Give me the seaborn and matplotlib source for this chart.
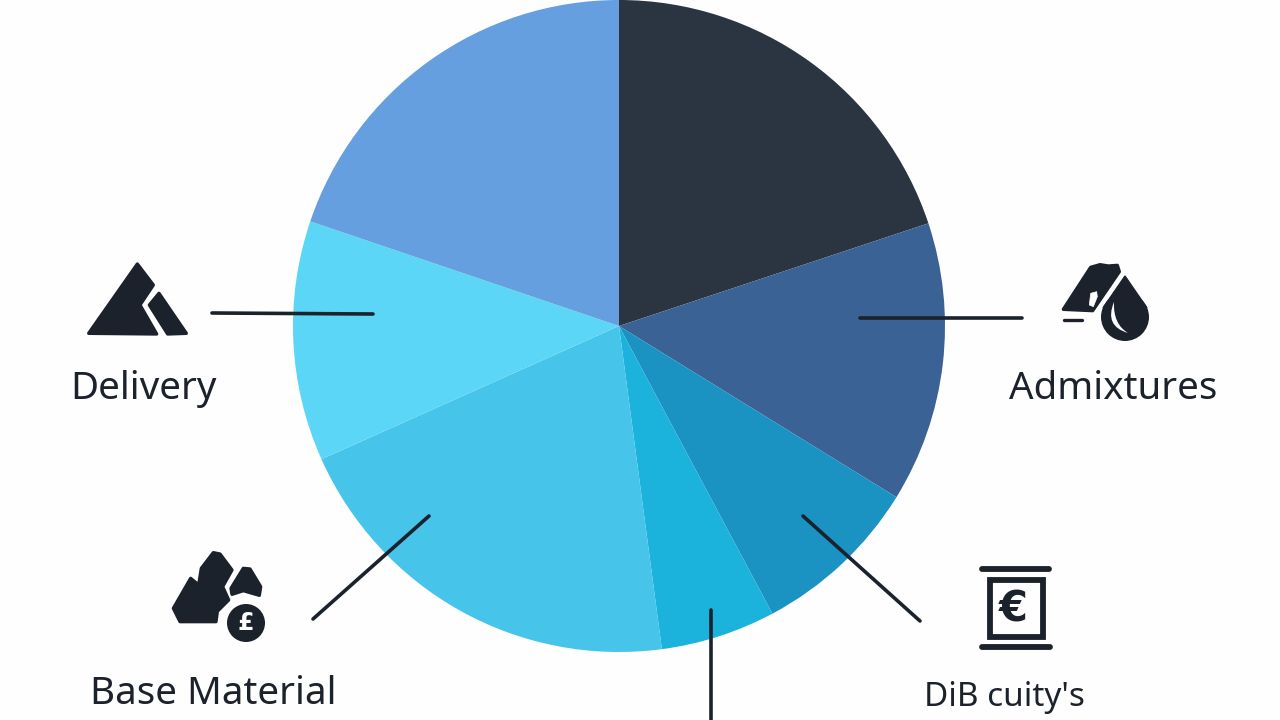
import matplotlib
matplotlib.use("Agg")
import matplotlib.pyplot as plt
from matplotlib.patches import Circle, PathPatch, Polygon, Rectangle
from matplotlib.path import Path
import seaborn as sns

# slices clockwise from 12 o'clock, shares
slice_names = ["Top", "Admixtures", "Duties", "Lower", "Base Material", "Delivery", "Upper"]
slice_values = [19.9, 13.9, 8.4, 5.7, 20.4, 11.9, 19.8]
slice_colors = ["#2a3541", "#3a6295", "#1a92c2", "#1bb2dc", "#47c4ea", "#5cd6f6", "#659fdf"]

labels = ["Delivery", "Admixtures", "Base Material", "DiB cuity's"]

INK = "#1c222b"
PAPER = "#fefefe"

sns.set_theme(style="white")
plt.rcParams["font.family"] = ["Noto Sans", "DejaVu Sans"]

fig = plt.figure(figsize=(12.8, 7.2), dpi=100, facecolor=PAPER)

# pie axes placed in pixels: centre (619, 326), radius 326
pie_ax = fig.add_axes([(619 - 326) / 1280, (720 - 326 - 326) / 720, 652 / 1280, 652 / 720])
pie_ax.pie(slice_values, colors=sns.color_palette(slice_colors), startangle=90,
           counterclock=False, radius=1, wedgeprops={"linewidth": 0, "edgecolor": "none"})
pie_ax.set_xlim(-1, 1)
pie_ax.set_ylim(-1, 1)

# overlay in image pixels for the leader lines, icons and labels
ax = fig.add_axes([0, 0, 1, 1], facecolor="none")
ax.set_xlim(0, 1280)
ax.set_ylim(720, 0)
ax.axis("off")


def leader(x0, y0, x1, y1):
    ax.plot([x0, x1], [y0, y1], color=INK, lw=2.6, solid_capstyle="round")


leader(212, 313, 373, 314)
leader(860, 318, 1022, 318)
leader(313, 619, 429, 516)
leader(803, 516, 920, 621)
leader(711, 610, 711, 725)


def shape(points, ox, oy, color=INK, lw=2.4):
    # points are measured on a 3x crop starting at (ox, oy)
    pts = [(ox + x / 3, oy + y / 3) for x, y in points]
    ax.add_patch(Polygon(pts, closed=True, fc=color, ec=color, lw=lw, joinstyle="round"))


# mountain icon
shape([(232, 42), (280, 105), (240, 165), (290, 252), (86, 250)], 60, 250)
shape([(297, 130), (379, 250), (323, 252), (268, 165)], 60, 250)

# rock and drop icon
shape([(190, 178), (272, 52), (300, 44), (325, 48), (352, 46), (358, 65), (278, 182)], 1000, 250)
shape([(268, 165), (272, 130), (290, 125), (292, 140), (280, 170)], 1000, 250, PAPER, 0.5)
ax.plot([1064, 1082], [320, 320], color=INK, lw=2.4, solid_capstyle="round")
ax.add_patch(Circle((1125, 317), 24, fc=INK, ec="none"))
ax.add_patch(Polygon([(1125, 276), (1103, 308), (1147, 308)], fc=INK, ec=INK, lw=1))
crescent = Path([(1114, 302), (1104, 326), (1128, 333), (1113, 324), (1114, 302)],
                [Path.MOVETO, Path.CURVE3, Path.CURVE3, Path.CURVE3, Path.CURVE3])
ax.add_patch(PathPatch(crescent, fc=PAPER, ec="none"))

# rocks and coin icon
shape([(280, 205), (332, 115), (356, 135), (364, 85), (400, 38), (420, 42), (456, 90),
       (428, 140), (446, 180), (412, 214), (408, 245), (300, 245)], 80, 540)
shape([(453, 145), (490, 85), (510, 87), (542, 140), (538, 166), (490, 152), (456, 163)], 80, 540)
ax.add_patch(Circle((246, 623), 19, fc=INK, ec="none"))
ax.text(246, 623, "£", color=PAPER, fontsize=17, fontweight="bold", family="DejaVu Sans",
        ha="center", va="center")

# euro frame icon
ax.plot([982, 1049], [569, 569], color=INK, lw=4.2, solid_capstyle="round")
ax.plot([982, 1050], [647, 647], color=INK, lw=4.2, solid_capstyle="round")
ax.add_patch(Rectangle((989.5, 579.5), 53, 57, fc="none", ec=INK, lw=4.2))
ax.text(1013, 609, "€", color=INK, fontsize=30, fontweight="bold", family="DejaVu Sans",
        ha="center", va="center")

# category labels
ax.text(143, 399, labels[0], color=INK, fontsize=27.7, ha="center", va="baseline")
ax.text(1113, 399, labels[1], color=INK, fontsize=27.7, ha="center", va="baseline")
ax.text(213, 704, labels[2], color=INK, fontsize=27.7, ha="center", va="baseline")
ax.text(1004, 706, labels[3], color=INK, fontsize=24, ha="center", va="baseline")

fig.savefig("out.png", dpi=100, facecolor=fig.get_facecolor())
plt.close(fig)
